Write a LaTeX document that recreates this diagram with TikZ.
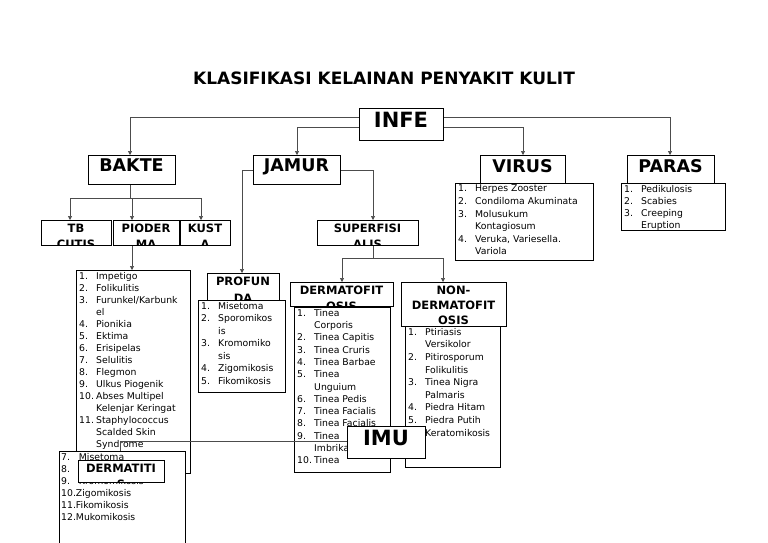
\documentclass[tikz,border=0pt]{standalone}
\usepackage{fontspec}
\setmainfont{DejaVu Sans}
\usetikzlibrary{arrows.meta}
\newcommand{\cbox}[6]{%
  \fill[white] (#1,#2) rectangle (#3,#4);
  \begin{scope}\clip (#1,#2) rectangle (#3,#4);
  \node[anchor=north west,inner sep=0,align=left,font=#5] at (#1+3,#2+2) {#6};
  \end{scope}
  \draw[bx] (#1,#2) rectangle (#3,#4);}
\newcommand{\hdbox}[6]{%
  \fill[white] (#1,#2) rectangle (#3,#4);
  \begin{scope}\clip (#1,#2) rectangle (#3,#4);
  \node[anchor=north,inner sep=0,align=center,font=#5] at ({(#1+#3)/2},#2+4) {#6};
  \end{scope}
  \draw[bx] (#1,#2) rectangle (#3,#4);}
\newcommand{\li}[2]{\makebox[17pt][l]{#1}#2}
\newcommand{\lc}[1]{\hspace*{17pt}#1}
\begin{document}
\begin{tikzpicture}[x=1pt,y=-1pt,
  bx/.style={draw=black,line width=0.8pt},
  ln/.style={draw=black!70,line width=0.6pt},
  ar/.style={ln,-{Triangle[length=4pt,width=4pt]}},
  big/.style={}]
\useasboundingbox[fill=white] (0,0) rectangle (768,543);
\node[font=\bfseries\fontsize{17}{20}\selectfont] (title) at (384,78) {KLASIFIKASI KELAINAN PENYAKIT KULIT};
\draw[ar] (359,117) -- (130,117) -- (130,155);
\draw[ar] (359,127) -- (297,127) -- (297,155);
\draw[ar] (443,117) -- (670,117) -- (670,155);
\draw[ar] (443,127) -- (523,127) -- (523,155);
\draw[ln] (130,184) -- (130,198);
\draw[ln] (70,198) -- (201,198);
\draw[ar] (70,198) -- (70,220);
\draw[ar] (132,198) -- (132,220);
\draw[ar] (201,198) -- (201,220);
\draw[ar] (132,245) -- (132,270);
\draw[ar] (253,170) -- (242,170) -- (242,273);
\draw[ar] (340,170) -- (373,170) -- (373,220);
\draw[ln] (373,245) -- (373,258);
\draw[ln] (342,258) -- (443,258);
\draw[ar] (342,258) -- (342,282);
\draw[ar] (443,258) -- (443,282);
\hdbox{359}{108}{443}{140}{\bfseries\fontsize{21}{24}\selectfont}{INFE}
\hdbox{88}{155}{175}{184}{\bfseries\fontsize{17.5}{20}\selectfont}{BAKTE}
\hdbox{253}{155}{340}{184}{\bfseries\fontsize{17.5}{20}\selectfont}{JAMUR}
\hdbox{480}{155}{565}{183}{\bfseries\fontsize{17.5}{20}\selectfont}{VIRUS}
\hdbox{627}{155}{714}{183}{\bfseries\fontsize{17.5}{20}\selectfont}{PARAS}
\cbox{455}{183}{593}{260}{\fontsize{9.3}{12.6}\selectfont}{\li{1.}{Herpes Zooster}\\\li{2.}{Condiloma Akuminata}\\\li{3.}{Molusukum}\\\lc{Kontagiosum}\\\li{4.}{Veruka, Variesella.}\\\lc{Variola}}
\cbox{621}{183}{725}{230}{\fontsize{9.3}{12}\selectfont}{\li{1.}{Pedikulosis}\\\li{2.}{Scabies}\\\li{3.}{Creeping}\\\lc{Eruption}}
\hdbox{41}{220}{111}{245}{\bfseries\fontsize{11.5}{16}\selectfont}{TB\\CUTIS}
\hdbox{113}{220}{179}{245}{\bfseries\fontsize{11.5}{16}\selectfont}{PIODER\\MA}
\hdbox{180}{220}{230}{245}{\bfseries\fontsize{11.5}{16}\selectfont}{KUST\\A}
\hdbox{317}{220}{418}{245}{\bfseries\fontsize{11.5}{16}\selectfont}{SUPERFISI\\ALIS}
\cbox{76}{270}{190}{473}{\fontsize{9.3}{12}\selectfont}{\li{1.}{Impetigo}\\\li{2.}{Folikulitis}\\\li{3.}{Furunkel/Karbunk}\\\lc{el}\\\li{4.}{Pionikia}\\\li{5.}{Ektima}\\\li{6.}{Erisipelas}\\\li{7.}{Selulitis}\\\li{8.}{Flegmon}\\\li{9.}{Ulkus Piogenik}\\\li{10.}{Abses Multipel}\\\lc{Kelenjar Keringat}\\\li{11.}{Staphylococcus}\\\lc{Scalded Skin}\\\lc{Syndrome}}
\hdbox{207}{273}{279}{300}{\bfseries\fontsize{11.5}{17}\selectfont}{PROFUN\\DA}
\cbox{198}{300}{285}{392}{\fontsize{9.3}{12.5}\selectfont}{\li{1.}{Misetoma}\\\li{2.}{Sporomikos}\\\lc{is}\\\li{3.}{Kromomiko}\\\lc{sis}\\\li{4.}{Zigomikosis}\\\li{5.}{Fikomikosis}}
\cbox{294}{307}{390}{472}{\fontsize{9.3}{12.3}\selectfont}{\li{1.}{Tinea}\\\lc{Corporis}\\\li{2.}{Tinea Capitis}\\\li{3.}{Tinea Cruris}\\\li{4.}{Tinea Barbae}\\\li{5.}{Tinea}\\\lc{Unguium}\\\li{6.}{Tinea Pedis}\\\li{7.}{Tinea Facialis}\\\li{8.}{Tinea Facialis}\\\li{9.}{Tinea}\\\lc{Imbrikata}\\\li{10.}{Tinea}}
\hdbox{290}{282}{393}{306}{\bfseries\fontsize{11.5}{16}\selectfont}{DERMATOFIT\\OSIS}
\cbox{405}{326}{500}{467}{\fontsize{9.3}{12.6}\selectfont}{\li{1.}{Ptiriasis}\\\lc{Versikolor}\\\li{2.}{Pitirosporum}\\\lc{Folikulitis}\\\li{3.}{Tinea Nigra}\\\lc{Palmaris}\\\li{4.}{Piedra Hitam}\\\li{5.}{Piedra Putih}\\\li{6.}{Keratomikosis}}
\hdbox{401}{282}{506}{326}{\bfseries\fontsize{11.5}{15}\selectfont}{NON-\\DERMATOFIT\\OSIS}
\draw[ln] (347,441) -- (120,441) -- (120,451);
\hdbox{347}{426}{425}{458}{\bfseries\fontsize{21}{24}\selectfont}{IMU}
\fill[white] (59,451) rectangle (185,545);
\begin{scope}\clip (59,451) rectangle (185,545);
\node[anchor=north west,inner sep=0,align=left,font=\fontsize{9.3}{12}\selectfont] at (61,453) {7.\ \ \ Misetoma\\8.\ \ \ Sporomikosis\\9.\ \ \ Kromomikosis\\10.Zigomikosis\\11.Fikomikosis\\12.Mukomikosis};
\end{scope}
\draw[bx] (59,545) -- (59,451) -- (185,451) -- (185,545);
\hdbox{78}{460}{164}{482}{\bfseries\fontsize{11.5}{16}\selectfont}{DERMATITI\\S}
\end{tikzpicture}
\end{document}
